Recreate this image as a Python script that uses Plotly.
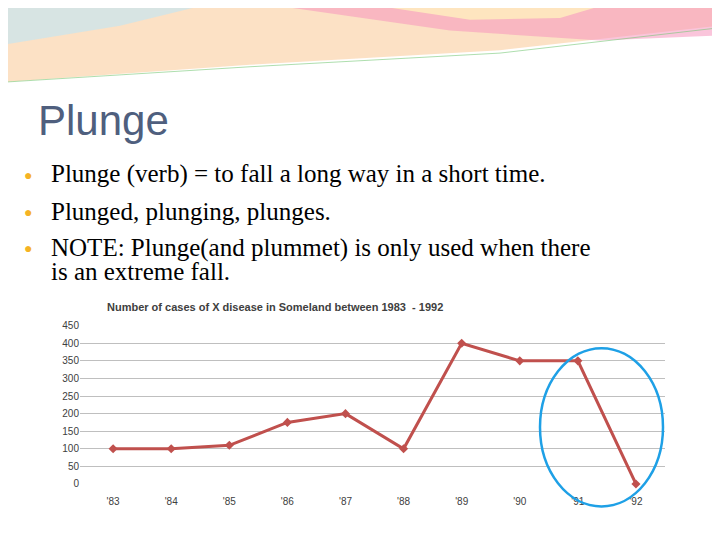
import plotly.graph_objects as go

years = [83, 84, 85, 86, 87, 88, 89, 90, 91, 92]
year_labels = ["'83", "'84", "'85", "'86", "'87", "'88", "'89", "'90", "'91", "'92"]
cases = [100, 100, 110, 175, 200, 100, 400, 350, 350, 0]
y_ticks = [0, 50, 100, 150, 200, 250, 300, 350, 400, 450]

# page has an 8px body margin, so draw the figure slightly smaller
W, H = 704, 524
OX, OY = 8, 8


def px(x):
    return (x - OX) / W


def py(y):
    return 1 - (y - OY) / H


fig = go.Figure()
fig.add_trace(go.Scatter(
    x=years, y=cases, mode="lines+markers",
    line=dict(color="#c0504d", width=3),
    marker=dict(symbol="diamond", size=7, color="#c0504d"),
    cliponaxis=False,
))

shapes = []
def path(pts):
    return "M " + " L ".join(f"{px(x)},{py(y)}" for x, y in pts) + " Z"

shapes.append(dict(type="path", xref="paper", yref="paper", line_width=0,
                   fillcolor="rgba(250,200,150,0.55)",
                   path=path([(0, 0), (720, 0), (720, 20), (500, 45), (250, 60), (0, 78)])))
shapes.append(dict(type="path", xref="paper", yref="paper", line_width=0,
                   fillcolor="rgba(245,150,190,0.55)",
                   path=path([(280, 0), (720, 0), (720, 30), (600, 35), (450, 25)])))
shapes.append(dict(type="path", xref="paper", yref="paper", line_width=0,
                   fillcolor="rgba(255,240,190,0.8)",
                   path=path([(380, 0), (600, 0), (560, 12), (470, 14)])))
shapes.append(dict(type="path", xref="paper", yref="paper", line_width=0,
                   fillcolor="rgba(200,230,240,0.7)",
                   path=path([(0, 0), (200, 0), (120, 20), (0, 40)])))
shapes.append(dict(type="path", xref="paper", yref="paper", line=dict(color="rgba(120,200,120,0.6)", width=1),
                   path="M " + " L ".join(f"{px(x)},{py(y)}" for x, y in [(0, 78), (250, 62), (500, 48), (720, 22)])))
shapes.append(dict(type="circle", xref="paper", yref="paper",
                   x0=px(540), x1=px(663), y0=py(512), y1=py(350),
                   line=dict(color="#1ea0e6", width=2.5)))

ann = [
    dict(x=px(36), y=py(117), text="Plunge", font=dict(family="Liberation Sans", size=42, color="#4f5f7e")),
    dict(x=px(105), y=py(308), text="<b>Number of cases of X disease in Someland between 1983  - 1992</b>",
         font=dict(family="Liberation Sans", size=11, color="#404040")),
]
bullets = [
    (172, "Plunge (verb) = to fall a long way in a short time."),
    (210, "Plunged, plunging, plunges."),
    (247, "NOTE: Plunge(and plummet) is only used when there"),
    (272, "is an extreme fall."),
]
for i, (y, t) in enumerate(bullets):
    ann.append(dict(x=px(49), y=py(y), text=t, font=dict(family="Liberation Serif", size=25, color="black")))
    if i < 3:
        ann.append(dict(x=px(22), y=py(y), text="●", font=dict(size=14, color="#f5b324")))
for a in ann:
    a.update(xref="paper", yref="paper", xanchor="left", yanchor="middle", showarrow=False)

fig.update_layout(
    width=W, height=H, margin=dict(l=0, r=0, t=0, b=0),
    paper_bgcolor="white", plot_bgcolor="white", showlegend=False,
    shapes=shapes, annotations=ann,
    xaxis=dict(domain=[px(80), px(665)], range=[82.43, 92.5], tickvals=years, ticktext=year_labels,
               showgrid=False, zeroline=False, showline=False, ticks="",
               tickfont=dict(family="Liberation Sans", size=10, color="#404040")),
    yaxis=dict(domain=[py(489), py(327)], range=[0, 450], tickvals=y_ticks,
               showgrid=True, gridcolor="#bfbfbf", zeroline=False,
               tickfont=dict(family="Liberation Sans", size=10, color="#404040")),
)
fig.update_xaxes(ticklabelstandoff=10)
fig.write_html("out.html")
